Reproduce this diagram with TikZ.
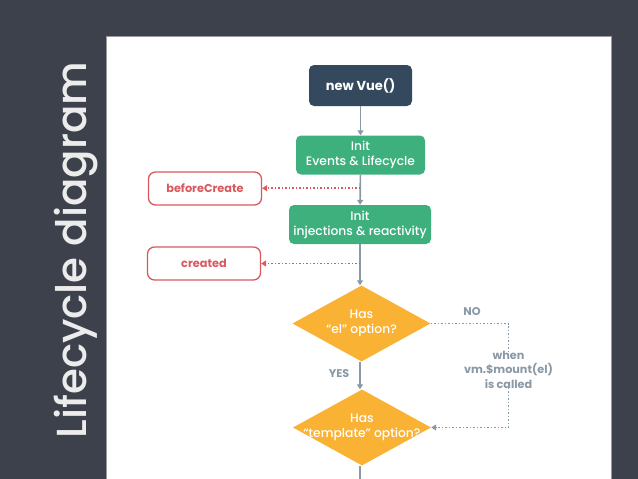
\documentclass[tikz,border=0pt]{standalone}
\usepackage{fontspec}
\setmainfont{Poppins}
\newfontfamily\medfont{Poppins Medium}
\usetikzlibrary{shapes.geometric,arrows.meta,positioning}
\definecolor{board}{HTML}{3C414B}
\definecolor{vuedark}{HTML}{35495E}
\definecolor{vuegreen}{HTML}{3DB07E}
\definecolor{hookred}{HTML}{D9595F}
\definecolor{decor}{HTML}{F9B233}
\definecolor{conn}{HTML}{8A99A6}
\definecolor{chalk}{HTML}{ECECEC}
\tikzset{
  darkbox/.style={fill=vuedark, rounded corners=5pt, text=white, font=\fontsize{13}{15}\selectfont\bfseries, minimum width=103pt, minimum height=41pt, inner sep=0pt},
  greenbox/.style={fill=vuegreen, rounded corners=5pt, text=white, font=\medfont\fontsize{12.3}{15}\selectfont, align=center, minimum height=39pt, inner sep=0pt},
  hookbox/.style={draw=hookred, line width=1.3pt, rounded corners=7pt, fill=white, text=hookred, font=\fontsize{11.3}{13}\selectfont\bfseries, minimum width=113pt, minimum height=33pt, inner sep=0pt},
  decision/.style={diamond, fill=decor, minimum width=138pt, minimum height=76pt, inner sep=0pt, aspect=1.8},
  dtext/.style={text=white, font=\medfont\fontsize{12.3}{15}\selectfont, align=center, inner sep=0pt},
  glabel/.style={text=conn, font=\fontsize{11.2}{14.5}\selectfont\bfseries, align=center, inner sep=0pt},
  flow/.style={draw=conn, line width=1.6pt, -{Triangle[width=6pt,length=5pt]}},
  plainflow/.style={draw=conn, line width=1.6pt},
  hookflow/.style={draw=hookred, line width=1.5pt, dotted, -{Triangle[width=6pt,length=5pt]}},
  mountflow/.style={draw=conn, line width=1.5pt, dotted},
  title/.style={text=chalk, font=\medfont\fontsize{42}{46}\selectfont, rotate=90, inner sep=0pt}
}
\begin{document}
\begin{tikzpicture}[x=1pt,y=-1pt]
\useasboundingbox (0,0) rectangle (638,479);
\fill[board] (0,0) rectangle (638,479);
\fill[white] (106,36) rectangle (611,479);
\draw[black!40, line width=0.6pt] (106,479) -- (106,36) -- (611,36) -- (611,479);
\node[title] (ttl) at (76,250) {Lifecycle diagram};

\node[darkbox] (vue) at (360.5,85.5) {new Vue()};
\node[greenbox, minimum width=129pt] (init1) at (360.5,155) {Init\\Events \& Lifecycle};
\node[greenbox, minimum width=142pt] (init2) at (360,224.5) {Init\\injections \& reactivity};
\node[hookbox] (before) at (205,188.5) {beforeCreate};
\node[hookbox] (created) at (204,263.5) {created};
\node[decision] (d1) at (361.5,323.5) {};
\node[dtext] (d1t) at (d1.center) {Has\\“el” option?};
\node[decision] (d2) at (362,427.5) {};
\node[dtext] (d2t) at (d2.center) {Has\\“template” option?};
\node[glabel] (no) at (472,312) {NO};
\node[glabel] (yes) at (339,374) {YES};
\node[glabel] (when) at (508.5,369.5) {when\\vm.\$mount(el)\\is called};
\coordinate (bottom) at (360,479);

\draw[flow] (vue) -- (init1);
\draw[flow] (init1) -- (init2) coordinate[pos=0.45] (bc);
\draw[flow] (init2.south) -- (init2.south |- d1.north) coordinate[pos=0.47] (cr);
\draw[hookflow] (bc) -- (bc -| before.east);
\draw[hookflow] (cr) -- (cr -| created.east);
\draw[flow] (d1.south -| init2.south) -- (d2.north -| init2.south);
\draw[plainflow] (d2.south -| init2.south) -- (bottom);
\draw[mountflow] (d1.east) -| ([yshift=-5pt]when.north);
\draw[mountflow, -{Triangle[width=6pt,length=5pt]}] ([yshift=4pt]when.south) |- (d2.east);
\end{tikzpicture}
\end{document}
